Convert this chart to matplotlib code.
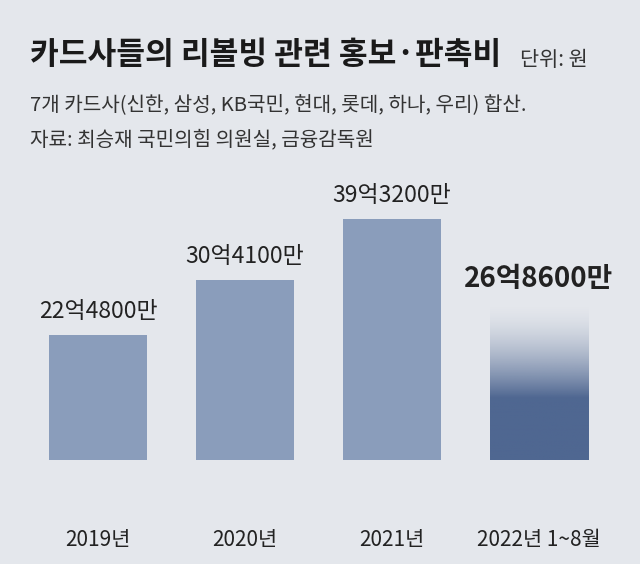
import matplotlib
matplotlib.use("Agg")
import matplotlib.pyplot as plt
import numpy as np
from matplotlib.colors import to_rgb

plt.rcParams['font.family'] = ['Noto Sans CJK KR', 'DejaVu Sans']

categories = ["2019년", "2020년", "2021년", "2022년 1~8월"]
values = [22.48, 30.41, 39.32, 26.86]  # 억 원
labels = ["22억4800만", "30억4100만", "39억3200만", "26억8600만"]

bg = "#e4e7ec"
fig = plt.figure(figsize=(6.4, 5.64), dpi=100, facecolor=bg)
ax = fig.add_axes([0, 104/564, 1, 280/564])
ax.set_facecolor(bg)
ax.set_xlim(-0.667, 3.687)
ax.set_ylim(4.34, 45)
ax.axis('off')

w = 0.667
for i in range(3):
    ax.bar(i, values[i], width=w, color="#8a9dbb", bottom=0)
i = 3
c = np.array(to_rgb("#4f6791"))
n = 200
img = np.zeros((n, 1, 4))
img[:, :, :3] = c
t = np.linspace(0, 1, n)
alpha = np.clip((1 - t) / 0.6, 0, 1) ** 1.6
img[:, 0, 3] = alpha
ax.imshow(img, extent=(i - w/2, i + w/2, 4.34, values[i]), origin='lower', aspect='auto', zorder=2)

for i in range(4):
    last = i == 3
    ax.text(i, values[i] + 1.8, labels[i], ha='center', va='bottom',
            fontsize=20 if last else 16.5, fontweight='bold' if last else 'medium', color="#222222")

for i, c_ in enumerate(categories):
    fig.text((98 + 147*i)/640, 1 - 540/564, c_, ha='center', va='center', fontsize=15, color="#222222")

fig.text(30/640, 1 - 55/564, "카드사들의 리볼빙 관련 홍보·판촉비", fontsize=22.5, fontweight='bold',
         ha='left', va='center', color="#1a1a1a")
fig.text(520/640, 1 - 60/564, "단위: 원", fontsize=15, ha='left', va='center', color="#333333")
fig.text(30/640, 1 - 105/564, "7개 카드사(신한, 삼성, KB국민, 현대, 롯데, 하나, 우리) 합산.",
         fontsize=14.5, ha='left', va='center', color="#333333")
fig.text(30/640, 1 - 140/564, "자료: 최승재 국민의힘 의원실, 금융감독원",
         fontsize=14.5, ha='left', va='center', color="#333333")

fig.savefig("out.png", dpi=100, facecolor=bg)
